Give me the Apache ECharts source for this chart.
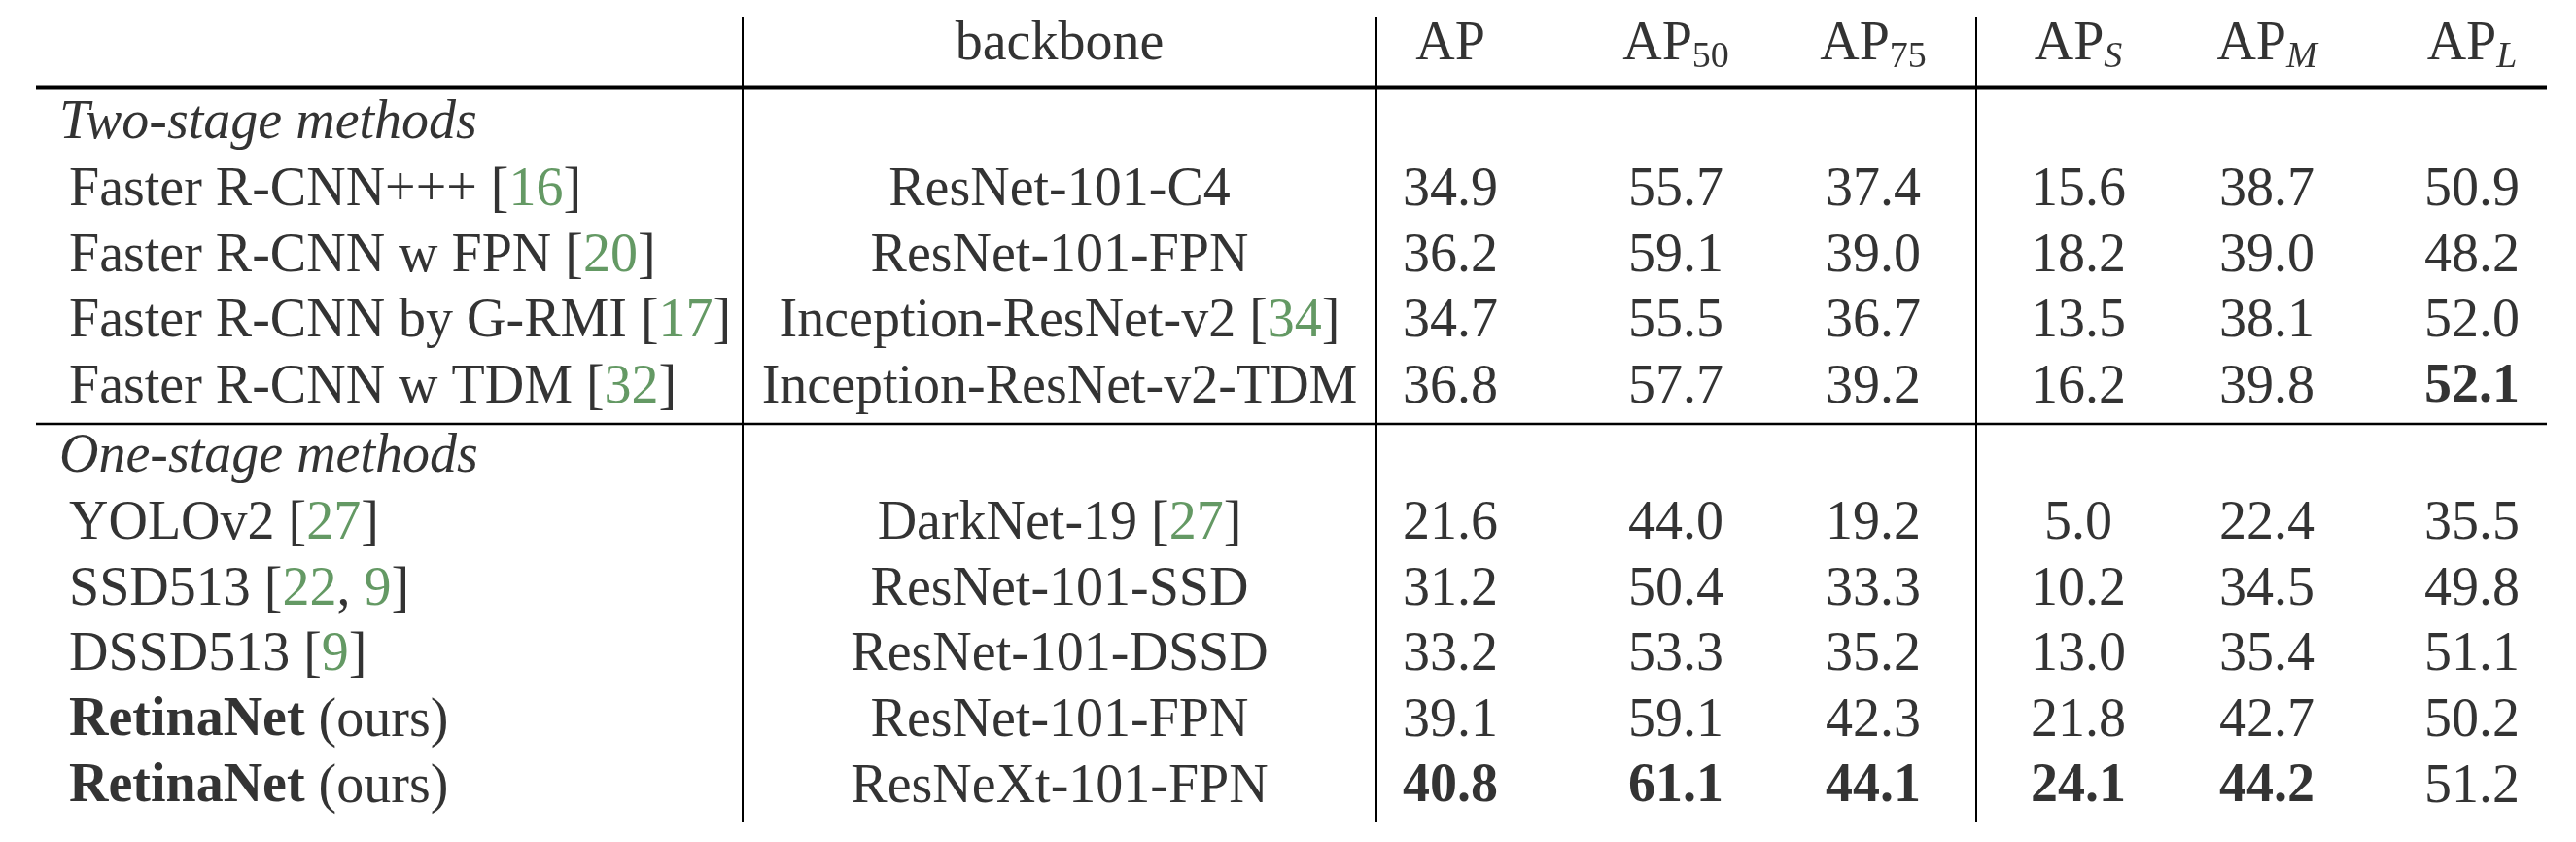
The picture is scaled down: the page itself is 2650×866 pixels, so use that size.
<!DOCTYPE html>
<html><head><meta charset="utf-8">
<script src="https://cdn.jsdelivr.net/npm/echarts@6/dist/echarts.min.js"></script>
<style>html,body{margin:0;background:#fff}#c{width:2650px;height:866px}</style>
</head><body><div id="c"></div>
<script>
// table content
var headers = ['backbone', 'AP', 'AP{sub|50}', 'AP{sub|75}', 'AP{subi|S}', 'AP{subi|M}', 'AP{subi|L}'];
var sections = ['Two-stage methods', 'One-stage methods'];
var methods = ['Faster R-CNN+++', 'Faster R-CNN w FPN', 'Faster R-CNN by G-RMI', 'Faster R-CNN w TDM',
  'YOLOv2', 'SSD513', 'DSSD513', 'RetinaNet', 'RetinaNet'];
var methodCites = ['16', '20', '17', '32', '27', '22, 9', '9', '', ''];
var backbones = ['ResNet-101-C4', 'ResNet-101-FPN', 'Inception-ResNet-v2', 'Inception-ResNet-v2-TDM',
  'DarkNet-19', 'ResNet-101-SSD', 'ResNet-101-DSSD', 'ResNet-101-FPN', 'ResNeXt-101-FPN'];
var backboneCites = ['', '', '34', '', '27', '', '', '', ''];
var AP   = ['34.9', '36.2', '34.7', '36.8', '21.6', '31.2', '33.2', '39.1', '40.8'];
var AP50 = ['55.7', '59.1', '55.5', '57.7', '44.0', '50.4', '53.3', '59.1', '61.1'];
var AP75 = ['37.4', '39.0', '36.7', '39.2', '19.2', '33.3', '35.2', '42.3', '44.1'];
var APS  = ['15.6', '18.2', '13.5', '16.2', '5.0', '10.2', '13.0', '21.8', '24.1'];
var APM  = ['38.7', '39.0', '38.1', '39.8', '22.4', '34.5', '35.4', '42.7', '44.2'];
var APL  = ['50.9', '48.2', '52.0', '52.1', '35.5', '49.8', '51.1', '50.2', '51.2'];
var bold = [[3, 5], [8, 0], [8, 1], [8, 2], [8, 3], [8, 4]]; // [row, metric col]

var colX = [1090, 1492, 1724, 1927, 2138, 2332, 2543];
var rowY = [196, 264, 331, 399, 539, 607, 674, 742, 810];
var headerY = 46, sectionY = [127, 470];
var green = '#3d7f3d';

function isBold(r, c) { return bold.some(function (b) { return b[0] === r && b[1] === c; }); }
function cite(s) { return s ? ' [{g|' + s.replace(', ', '},{g| ') + '}]' : ''; }

var leftData = [], centerData = [];
sections.forEach(function (s, i) { leftData.push({value: [61, sectionY[i]], label: {formatter: '{i|' + s + '}'}}); });
methods.forEach(function (m, r) {
  var txt = m === 'RetinaNet' ? '{b|RetinaNet} (ours)' : m + cite(methodCites[r]);
  leftData.push({value: [71, rowY[r]], label: {formatter: txt}});
  centerData.push({value: [colX[0], rowY[r]], label: {formatter: backbones[r] + cite(backboneCites[r])}});
  [AP, AP50, AP75, APS, APM, APL].forEach(function (arr, c) {
    var v = arr[r];
    centerData.push({value: [colX[c + 1], rowY[r]], label: {formatter: isBold(r, c) ? '{b|' + v + '}' : v}});
  });
});
headers.forEach(function (h, c) { centerData.push({value: [colX[c], headerY], label: {formatter: h}}); });

var FS = 56;
var font = {fontFamily: 'Liberation Serif', fontSize: FS, color: '#000'};
var rich = {
  g: {fontFamily: 'Liberation Serif', fontSize: FS, color: green},
  b: {fontFamily: 'Liberation Serif', fontSize: FS, fontWeight: 'bold', color: '#000'},
  i: {fontFamily: 'Liberation Serif', fontSize: FS, fontStyle: 'italic', color: '#000'},
  sub: {fontFamily: 'Liberation Serif', fontSize: 38, color: '#000', padding: [26, 0, 0, 0]},
  subi: {fontFamily: 'Liberation Serif', fontSize: 38, fontStyle: 'italic', color: '#000', padding: [26, 0, 0, 0]}
};

var chart = echarts.init(document.getElementById('c'));
chart.setOption({
  animation: false,
  grid: {left: 0, right: 0, top: 0, bottom: 0},
  xAxis: {type: 'value', min: 0, max: 2650, show: false},
  yAxis: {type: 'value', min: 0, max: 866, inverse: true, show: false},
  series: [
    {type: 'scatter', symbolSize: 0, data: leftData,
      label: Object.assign({show: true, position: 'inside', align: 'left', verticalAlign: 'middle', rich: rich}, font)},
    {type: 'scatter', symbolSize: 0, data: centerData,
      label: Object.assign({show: true, position: 'inside', align: 'center', verticalAlign: 'middle', rich: rich}, font)}
  ],
  graphic: [
    {type: 'line', shape: {x1: 37, y1: 90, x2: 2620, y2: 90}, style: {stroke: '#000', lineWidth: 5}},
    {type: 'line', shape: {x1: 37, y1: 436, x2: 2620, y2: 436}, style: {stroke: '#000', lineWidth: 2.5}},
    {type: 'line', shape: {x1: 764, y1: 17, x2: 764, y2: 845}, style: {stroke: '#000', lineWidth: 2}},
    {type: 'line', shape: {x1: 1416, y1: 17, x2: 1416, y2: 845}, style: {stroke: '#000', lineWidth: 2}},
    {type: 'line', shape: {x1: 2033, y1: 17, x2: 2033, y2: 845}, style: {stroke: '#000', lineWidth: 2}}
  ]
});
</script></body></html>
